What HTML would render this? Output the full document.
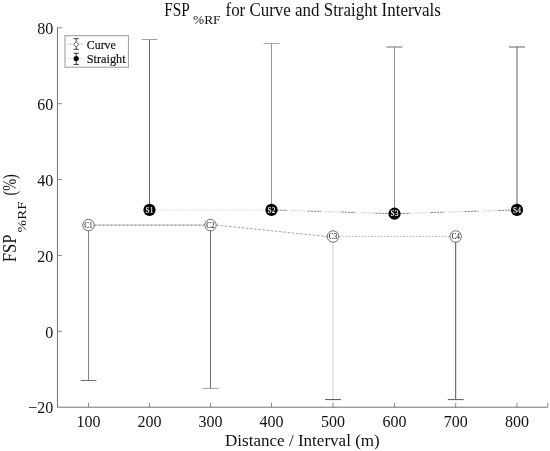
<!DOCTYPE html>
<html><head><meta charset="utf-8"><title>FSP %RF chart</title>
<style>
html,body{margin:0;padding:0;background:#fff;}
svg{display:block;font-family:"Liberation Serif",serif;fill:#111;}
</style></head><body>
<svg width="550" height="451" viewBox="0 0 550 451">
<rect width="550" height="451" fill="#fff"/>
<g stroke="#8c8c8c" stroke-width="1" fill="none">
<path d="M88.5 407.2v-4.4"/>
<path d="M149.5 407.2v-4.4"/>
<path d="M210.5 407.2v-4.4"/>
<path d="M271.5 407.2v-4.4"/>
<path d="M333.0 407.2v-4.4"/>
<path d="M394.5 407.2v-4.4"/>
<path d="M455.7 407.2v-4.4"/>
<path d="M517.0 407.2v-4.4"/>
<path d="M547.8 407.2v-4.4"/>
<path d="M57.5 331.3h4.5"/>
<path d="M57.5 255.4h4.5"/>
<path d="M57.5 179.6h4.5"/>
<path d="M57.5 103.7h4.5"/>
<path d="M57.5 27.8h4.5"/>
</g>
<path d="M57.45 27.30V407.20H547.80" stroke="#6a6a6a" stroke-width="0.95" fill="none"/>
<g font-size="16" text-anchor="middle">
<text x="88.5" y="426.6">100</text>
<text x="149.5" y="426.6">200</text>
<text x="210.5" y="426.6">300</text>
<text x="271.5" y="426.6">400</text>
<text x="333.0" y="426.6">500</text>
<text x="394.5" y="426.6">600</text>
<text x="455.7" y="426.6">700</text>
<text x="517.0" y="426.6">800</text>
</g>
<g font-size="16" text-anchor="end">
<text x="53.3" y="413.4">−20</text>
<text x="53.3" y="337.5">0</text>
<text x="53.3" y="261.6">20</text>
<text x="53.3" y="185.8">40</text>
<text x="53.3" y="109.9">60</text>
<text x="53.3" y="34.0">80</text>
</g>
<text x="164.2" y="15.8" font-size="18" textLength="25.6" lengthAdjust="spacingAndGlyphs">FSP</text>
<text x="193" y="24" font-size="12" textLength="27.5" lengthAdjust="spacingAndGlyphs">%RF</text>
<text x="225.5" y="15.8" font-size="18" textLength="215.3" lengthAdjust="spacingAndGlyphs">for Curve and Straight Intervals</text>
<text x="225" y="445.6" font-size="17.6" textLength="154.8" lengthAdjust="spacingAndGlyphs">Distance / Interval (m)</text>
<g transform="translate(16.4,262.2) rotate(-90)"><text x="0" y="0" font-size="18" textLength="27.8" lengthAdjust="spacingAndGlyphs">FSP</text><text x="29.8" y="9.4" font-size="12" textLength="31" lengthAdjust="spacingAndGlyphs">%RF</text><text x="66.6" y="0" font-size="18" textLength="21.4" lengthAdjust="spacingAndGlyphs">(%)</text></g>
<line x1="94.5" y1="225.1" x2="204.5" y2="225.1" stroke="#333" stroke-width="0.7" stroke-dasharray="2.2 0.6 0.6 0.6"/>
<line x1="216.5" y1="225.1" x2="327.0" y2="236.5" stroke="#666" stroke-width="0.6" stroke-dasharray="2.6 1.6"/>
<line x1="339.0" y1="236.5" x2="449.7" y2="236.5" stroke="#999" stroke-width="0.6" stroke-dasharray="2 1.2"/>
<line x1="155.5" y1="209.9" x2="265.5" y2="209.9" stroke="#c8c8c8" stroke-width="0.6" stroke-dasharray="1.5 1"/>
<line x1="271.5" y1="209.9" x2="394.5" y2="213.7" stroke="#444" stroke-width="0.65" stroke-dasharray="2.4 0.8 2.4 0.8 2.4 0.8 2.4 0.8 1.2 20" stroke-dashoffset="-2"/>
<line x1="271.5" y1="209.9" x2="394.5" y2="213.7" stroke="#a8a8a8" stroke-width="0.65" stroke-dasharray="1.3 0.9 1.3 0.9 1.3 0.9 1.3 0.9 1.3 0.9 1.3 0.9 1.3 20.6" stroke-dashoffset="-19"/>
<line x1="394.5" y1="213.7" x2="517.0" y2="209.9" stroke="#444" stroke-width="0.65" stroke-dasharray="2.4 0.8 2.4 0.8 2.4 0.8 2.4 0.8 1.2 20" stroke-dashoffset="-2"/>
<line x1="394.5" y1="213.7" x2="517.0" y2="209.9" stroke="#a8a8a8" stroke-width="0.65" stroke-dasharray="1.3 0.9 1.3 0.9 1.3 0.9 1.3 0.9 1.3 0.9 1.3 0.9 1.3 20.6" stroke-dashoffset="-19"/>
<path d="M88.5 225.1V380.5" stroke="#858585" stroke-width="1" fill="none"/>
<path d="M80.6 380.5h15.8" stroke="#707070" stroke-width="1" fill="none"/>
<path d="M210.5 225.1V388.4" stroke="#6a6a6a" stroke-width="1" fill="none"/>
<path d="M202.6 388.4h15.8" stroke="#a0a0a0" stroke-width="1" fill="none"/>
<path d="M333.0 236.5V399.6" stroke="#d0d0d0" stroke-width="1" fill="none"/>
<path d="M325.1 399.6h15.8" stroke="#555" stroke-width="1" fill="none"/>
<path d="M455.7 236.5V399.6" stroke="#505050" stroke-width="1" fill="none"/>
<path d="M447.8 399.6h15.8" stroke="#555" stroke-width="1" fill="none"/>
<path d="M149.5 209.9V39.5" stroke="#666" stroke-width="1" fill="none"/>
<path d="M141.6 39.5h15.8" stroke="#a0a0a0" stroke-width="1" fill="none"/>
<path d="M271.5 209.9V43.5" stroke="#9a9a9a" stroke-width="1" fill="none"/>
<path d="M263.6 43.5h15.8" stroke="#a8a8a8" stroke-width="1" fill="none"/>
<path d="M394.5 213.7V47.0" stroke="#929292" stroke-width="1" fill="none"/>
<path d="M386.6 47.0h15.8" stroke="#707070" stroke-width="1" fill="none"/>
<path d="M517.0 209.9V47.0" stroke="#606060" stroke-width="1" fill="none"/>
<path d="M509.1 47.0h15.8" stroke="#606060" stroke-width="1" fill="none"/>
<circle cx="88.5" cy="225.1" r="5.75" fill="#fff" stroke="#333" stroke-width="0.7"/>
<text x="88.5" y="227.6" font-size="7.4" text-anchor="middle" fill="#000">C1</text>
<circle cx="210.5" cy="225.1" r="5.75" fill="#fff" stroke="#333" stroke-width="0.7"/>
<text x="210.5" y="227.6" font-size="7.4" text-anchor="middle" fill="#000">C2</text>
<circle cx="333.0" cy="236.5" r="5.75" fill="#fff" stroke="#333" stroke-width="0.7"/>
<text x="333.0" y="239.0" font-size="7.4" text-anchor="middle" fill="#000">C3</text>
<circle cx="455.7" cy="236.5" r="5.75" fill="#fff" stroke="#333" stroke-width="0.7"/>
<text x="455.7" y="239.0" font-size="7.4" text-anchor="middle" fill="#000">C4</text>
<circle cx="149.5" cy="209.9" r="6.1" fill="#000"/>
<text x="149.5" y="212.6" font-size="7.4" text-anchor="middle" fill="#fff" stroke="#fff" stroke-width="0.12">S1</text>
<circle cx="271.5" cy="209.9" r="6.1" fill="#000"/>
<text x="271.5" y="212.6" font-size="7.4" text-anchor="middle" fill="#fff" stroke="#fff" stroke-width="0.12">S2</text>
<circle cx="394.5" cy="213.7" r="6.1" fill="#000"/>
<text x="394.5" y="216.4" font-size="7.4" text-anchor="middle" fill="#fff" stroke="#fff" stroke-width="0.12">S3</text>
<circle cx="517.0" cy="209.9" r="6.1" fill="#000"/>
<text x="517.0" y="212.6" font-size="7.4" text-anchor="middle" fill="#fff" stroke="#fff" stroke-width="0.12">S4</text>
<rect x="65" y="35.7" width="63.4" height="31.5" fill="#fff" stroke="#999" stroke-width="1"/>
<g stroke="#555" stroke-width="0.9" fill="none">
<path d="M67.3 44.2h5.5M79.5 44.2h4.2" stroke="#c4c4c4" stroke-width="0.8"/>
<path d="M76.2 38.7v2.8M76.2 46.9v2.4M73.5 38.7h5.4M73.5 49.3h5.4" stroke="#333"/>
<path d="M76.2 41.6l2.6 2.7l-2.6 2.7l-2.6 -2.7z" fill="#fff" stroke="#444"/>
<path d="M67.3 58.6h5.5M79.5 58.6h4.2" stroke="#e2e2e2" stroke-width="0.8"/>
<path d="M76.2 53.3v11.1M73.5 53.3h5.4M73.5 64.4h5.4" stroke="#222"/>
</g>
<circle cx="76.2" cy="58.6" r="2.6" fill="#000"/>
<text x="86.8" y="48.7" font-size="13" stroke="#111" stroke-width="0.2" textLength="29" lengthAdjust="spacingAndGlyphs">Curve</text>
<text x="86.8" y="63.3" font-size="13" stroke="#111" stroke-width="0.2" textLength="38.8" lengthAdjust="spacingAndGlyphs">Straight</text>
</svg></body></html>
